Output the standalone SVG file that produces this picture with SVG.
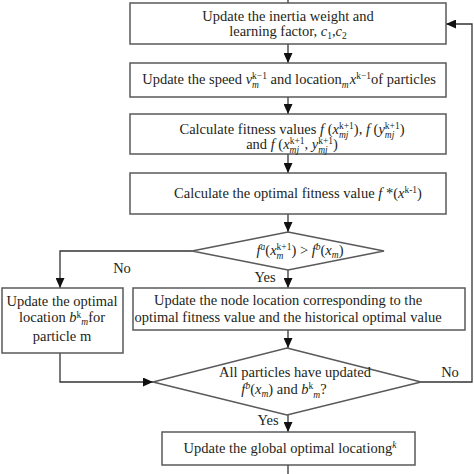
<svg xmlns="http://www.w3.org/2000/svg" width="474" height="474" viewBox="0 0 474 474">
<defs>
<style>
.box{fill:#fff;stroke:#58595b;stroke-width:1.5}
.ln{fill:none;stroke:#333;stroke-width:1.3}
text{font-family:"Liberation Serif","Times New Roman",serif;font-size:14.5px;fill:#231f20}
.i{font-style:italic}
.s{font-size:9.5px}
</style>
<marker id="ah" markerUnits="userSpaceOnUse" markerWidth="10" markerHeight="9" refX="10" refY="4.5" orient="auto">
<path d="M0,0 L10,4.5 L0,9 z" fill="#111"/>
</marker>
</defs>
<rect width="474" height="474" fill="#fff"/>

<g id="connectors">
<line class="ln" x1="288" y1="0" x2="288" y2="3"/>
<line class="ln" x1="288" y1="44" x2="288" y2="63" marker-end="url(#ah)"/>
<line class="ln" x1="288" y1="97" x2="288" y2="114" marker-end="url(#ah)"/>
<line class="ln" x1="288" y1="154" x2="288" y2="173" marker-end="url(#ah)"/>
<line class="ln" x1="288" y1="214" x2="288" y2="232" marker-end="url(#ah)"/>
<line class="ln" x1="288" y1="270" x2="288" y2="288" marker-end="url(#ah)"/>
<polyline class="ln" points="192,251 60,251 60,288" marker-end="url(#ah)"/>
<line class="ln" x1="288" y1="330" x2="288" y2="348" marker-end="url(#ah)"/>
<polyline class="ln" points="60,353 60,382 153,382" marker-end="url(#ah)"/>
<line class="ln" x1="288" y1="415" x2="288" y2="432" marker-end="url(#ah)"/>
<polyline class="ln" points="421,382 472,382 472,24 446,24" marker-end="url(#ah)"/>
<line class="ln" x1="288" y1="465" x2="288" y2="474"/>
<text x="265" y="282" text-anchor="middle">Yes</text>
<text x="122" y="273" text-anchor="middle">No</text>
<text x="450" y="377" text-anchor="middle">No</text>
<text x="268" y="425" text-anchor="middle">Yes</text>
</g>

<g id="n1">
<rect class="box" x="130" y="3" width="316" height="41"/>
<text x="288" y="21" text-anchor="middle">Update the inertia weight and</text>
<text x="288" y="36" text-anchor="middle">learning factor, <tspan class="i">c</tspan><tspan class="s" dy="3">1</tspan><tspan dy="-3">,</tspan><tspan class="i">c</tspan><tspan class="s" dy="3">2</tspan></text>
</g>

<g id="n2">
<rect class="box" x="130" y="63" width="316" height="34"/>
<text x="289" y="84" text-anchor="middle">Update the speed <tspan class="i">v</tspan><tspan class="s" dy="-5">k−1</tspan><tspan class="s i" dx="-14.9" dy="9">m</tspan><tspan dx="8" dy="-4"> and location</tspan><tspan class="s i" dy="4">m</tspan><tspan class="i" dx="1" dy="-4">x</tspan><tspan class="s" dy="-5">k−1</tspan><tspan dy="5">of particles</tspan></text>
</g>

<g id="n3">
<rect class="box" x="130" y="114" width="316" height="40"/>
<text x="292" y="134" text-anchor="middle">Calculate fitness values <tspan class="i">f</tspan> (<tspan class="i">x</tspan><tspan class="s" dy="-5">k+1</tspan><tspan class="s i" dx="-14.9" dy="9">mj</tspan><tspan dx="5.4" dy="-4">), </tspan><tspan class="i">f</tspan> (<tspan class="i">y</tspan><tspan class="s" dy="-5">k+1</tspan><tspan class="s i" dx="-14.9" dy="9">mj</tspan><tspan dx="5.4" dy="-4">)</tspan></text>
<text x="292" y="149" text-anchor="middle">and <tspan class="i">f</tspan> (<tspan class="i">x</tspan><tspan class="s" dy="-5">k+1</tspan><tspan class="s i" dx="-14.9" dy="9">mj</tspan><tspan dx="5.4" dy="-4">, </tspan><tspan class="i">y</tspan><tspan class="s" dy="-5">k+1</tspan><tspan class="s i" dx="-14.9" dy="9">mj</tspan><tspan dx="5.4" dy="-4">)</tspan></text>
</g>

<g id="n4">
<rect class="box" x="130" y="173" width="316" height="41"/>
<text x="298" y="198" text-anchor="middle">Calculate the optimal fitness value <tspan class="i">f</tspan> *(<tspan class="i">x</tspan><tspan class="s" dy="-5">k-1</tspan><tspan dy="5">)</tspan></text>
</g>

<g id="d1">
<polygon class="box" points="288,232 384,251 288,270 192,251"/>
<text x="300" y="255" text-anchor="middle"><tspan class="i">f</tspan><tspan class="s i" dy="-5">a</tspan><tspan dy="5">(</tspan><tspan class="i">x</tspan><tspan class="s" dy="-5">k+1</tspan><tspan class="s i" dx="-14.9" dy="9">m</tspan><tspan dx="8" dy="-4">) &gt; </tspan><tspan class="i">f</tspan><tspan class="s i" dy="-5">b</tspan><tspan dy="5">(</tspan><tspan class="i">x</tspan><tspan class="s i" dy="3">m</tspan><tspan dy="-3">)</tspan></text>
</g>

<g id="n5">
<rect class="box" x="2" y="288" width="121" height="65"/>
<text x="62" y="306" text-anchor="middle">Update the optimal</text>
<text x="62" y="322" text-anchor="middle">location <tspan class="i">b</tspan><tspan class="s" dy="-4">k</tspan><tspan class="s i" dy="7">m</tspan><tspan dy="-3">for</tspan></text>
<text x="62" y="341" text-anchor="middle">particle m</text>
</g>

<g id="n6">
<rect class="box" x="133" y="288" width="332" height="42"/>
<text x="288" y="305" text-anchor="middle">Update the node location corresponding to the</text>
<text x="288" y="322" text-anchor="middle">optimal fitness value and the historical optimal value</text>
</g>

<g id="d2">
<polygon class="box" points="287,348 421,382 287,415 153,382"/>
<text x="295" y="377" text-anchor="middle">All particles have updated</text>
<text x="284" y="394" text-anchor="middle"><tspan class="i">f</tspan><tspan class="s i" dy="-5">b</tspan><tspan dy="5">(</tspan><tspan class="i">x</tspan><tspan class="s i" dy="3">m</tspan><tspan dy="-3">) and </tspan><tspan class="i">b</tspan><tspan class="s" dy="-5">k</tspan><tspan class="s i" dy="9">m</tspan><tspan dy="-4">?</tspan></text>
</g>

<g id="n7">
<rect class="box" x="162" y="432" width="253" height="33"/>
<text x="290" y="453" text-anchor="middle">Update the global optimal location<tspan>g</tspan><tspan class="s i" dy="-5">k</tspan></text>
</g>
</svg>
